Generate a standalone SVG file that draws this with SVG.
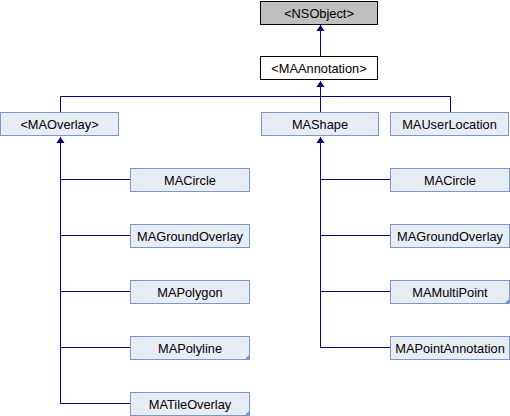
<svg xmlns="http://www.w3.org/2000/svg" width="510" height="416" viewBox="0 0 510 416">
<style>
.n rect{fill:#e8ecf5;stroke:#7b96c9;stroke-width:1}
.t{font-family:"Liberation Sans",Arial,sans-serif;font-size:12.8px;fill:#000;text-anchor:middle}
.c{fill:none;stroke:#000080;stroke-width:1}
.h{fill:#000080}
.f{fill:#7b96c9}
</style>
<defs>
<marker id="ar" viewBox="0 0 8 8" refX="4" refY="0" markerWidth="8" markerHeight="8" markerUnits="userSpaceOnUse" orient="auto-start-reverse">
<path d="M0,7 L4,0 L8,7 Z" fill="#000080"/>
</marker>
</defs>
<rect width="510" height="416" fill="#fff"/>
<g id="connectors">
<path class="c" d="M320.5,81 V112 M60.5,112 V96.5 H450.5 V112"/>
<path class="h" d="M316.5,87 L320.5,81 L324.5,87 Z"/>
<path class="c" d="M60.5,137 V403.5 H130 M60.5,179.5 H130 M60.5,235.5 H130 M60.5,291.5 H130 M60.5,347.5 H130"/>
<path class="h" d="M56.5,143 L60.5,137 L64.5,143 Z"/>
<path class="c" d="M320.5,137 V347.5 H390 M320.5,179.5 H390 M320.5,235.5 H390 M320.5,291.5 H390"/>
<path class="h" d="M316.5,143 L320.5,137 L324.5,143 Z"/>
<path class="h" d="M316.5,31 L320.5,25 L324.5,31 Z"/>
<path class="c" d="M320.5,25 V56"/>
</g>
<g id="NSObject"><rect x="260.5" y="1.5" width="117" height="23" fill="#bfbfbf" stroke="#000"/><text class="t" x="319" y="17.5">&lt;NSObject&gt;</text></g>
<g id="MAAnnotation"><rect x="260.5" y="56.5" width="117" height="23" fill="#fff" stroke="#000"/><text class="t" x="319" y="72.5">&lt;MAAnnotation&gt;</text></g>
<g id="MAOverlay" class="n"><rect x="0.5" y="112.5" width="118" height="23"/><text class="t" x="59.5" y="128.5">&lt;MAOverlay&gt;</text></g>
<g id="MAShape" class="n"><rect x="261.5" y="112.5" width="117" height="23"/><text class="t" x="320" y="128.5">MAShape</text></g>
<g id="MAUserLocation" class="n"><rect x="390.5" y="112.5" width="118" height="23"/><text class="t" x="449.5" y="128.5">MAUserLocation</text></g>
<g id="MACircle1" class="n"><rect x="130.5" y="168.5" width="119" height="23"/><text class="t" x="190" y="184.5">MACircle</text></g>
<g id="MAGroundOverlay1" class="n"><rect x="130.5" y="224.5" width="119" height="23"/><text class="t" x="190" y="240.5">MAGroundOverlay</text></g>
<g id="MAPolygon" class="n"><rect x="130.5" y="280.5" width="119" height="23"/><text class="t" x="190" y="296.5">MAPolygon</text></g>
<g id="MAPolyline" class="n"><rect x="130.5" y="336.5" width="119" height="23"/><text class="t" x="190" y="352.5">MAPolyline</text><path class="f" d="M250,354 V360 H244 Z"/></g>
<g id="MATileOverlay" class="n"><rect x="130.5" y="392.5" width="119" height="23"/><text class="t" x="190" y="408.5">MATileOverlay</text><path class="f" d="M250,410 V416 H244 Z"/></g>
<g id="MACircle2" class="n"><rect x="390.5" y="168.5" width="119" height="23"/><text class="t" x="450" y="184.5">MACircle</text></g>
<g id="MAGroundOverlay2" class="n"><rect x="390.5" y="224.5" width="119" height="23"/><text class="t" x="450" y="240.5">MAGroundOverlay</text></g>
<g id="MAMultiPoint" class="n"><rect x="390.5" y="280.5" width="119" height="23"/><text class="t" x="450" y="296.5">MAMultiPoint</text><path class="f" d="M510,298 V304 H504 Z"/></g>
<g id="MAPointAnnotation" class="n"><rect x="390.5" y="336.5" width="119" height="23"/><text class="t" x="450" y="352.5">MAPointAnnotation</text></g>
</svg>
